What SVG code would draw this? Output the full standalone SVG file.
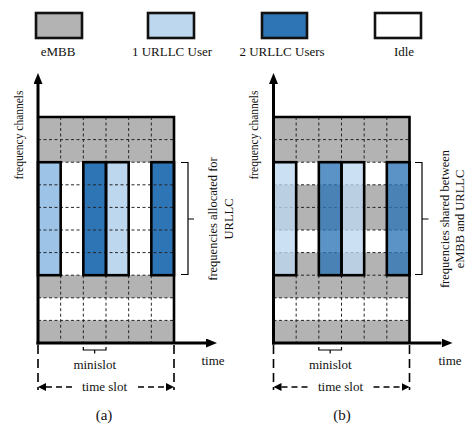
<svg xmlns="http://www.w3.org/2000/svg" width="474" height="428" viewBox="0 0 474 428" font-family="'Liberation Serif', 'Times New Roman', serif">
<defs>
<style>
text{font-family:'Liberation Serif','Times New Roman',serif;fill:#111;}
.lbl{font-size:13px;text-anchor:middle;}
.ax{font-size:11.5px;text-anchor:middle;}
.cap{font-size:15px;text-anchor:middle;}
.gray{fill:#b3b3b3;}
.lb{fill:#bdd7ee;}
.lb2{fill:#9dc3e6;}
.db{fill:#2e75b6;}
.dash{stroke:#262626;stroke-width:1;stroke-dasharray:3 2.5;fill:none;}
.box{fill:none;stroke:#000;stroke-width:2.6;}
.leg{stroke:#111;stroke-width:2.6;}
.axis{stroke:#000;stroke-width:3;fill:none;}
.thin{stroke:#000;stroke-width:1.2;fill:none;}
.ldash{stroke:#000;stroke-width:1.6;stroke-dasharray:9 5;fill:none;}
.adash{stroke:#000;stroke-width:1.6;stroke-dasharray:6 4;fill:none;}
</style>
<marker id="ah" markerUnits="userSpaceOnUse" markerWidth="11" markerHeight="9" refX="0" refY="4.5" orient="auto"><path d="M0,0 L11,4.5 L0,9 z" fill="#000"/></marker>
<marker id="sh" markerUnits="userSpaceOnUse" markerWidth="8" markerHeight="8" refX="0" refY="4" orient="auto"><path d="M0,0 L8,4 L0,8 z" fill="#000"/></marker>
</defs>
<rect width="474" height="428" fill="#fff"/>

<g id="legend">
<rect class="gray leg" x="36" y="13" width="46" height="25"/>
<rect class="lb leg" x="148" y="13" width="46" height="25"/>
<rect class="db leg" x="262" y="13" width="45" height="25"/>
<rect x="375" y="13" width="46" height="25" fill="#fff" class="leg"/>
<text class="lbl" x="58" y="56">eMBB</text>
<text class="lbl" x="172" y="56">1 URLLC User</text>
<text class="lbl" x="282" y="56">2 URLLC Users</text>
<text class="lbl" x="404" y="56">Idle</text>
</g>

<g id="panel-a">
<g id="grid-a">
<rect class="gray" x="38" y="117" width="136" height="45.2"/>
<rect class="gray" x="38" y="275.2" width="136" height="22.6"/>
<rect class="gray" x="38" y="320.4" width="136" height="22.6"/>
<rect class="lb2" x="38" y="162.2" width="22.67" height="113"/>
<rect class="db" x="83.33" y="162.2" width="22.67" height="113"/>
<rect class="lb" x="106" y="162.2" width="22.67" height="113"/>
<rect class="db" x="151.33" y="162.2" width="22.67" height="113"/>
<path class="dash" d="M38,139.6H174M38,162.2H174M38,184.8H174M38,207.4H174M38,230H174M38,252.6H174M38,275.2H174M38,297.8H174M38,320.4H174"/>
<path class="dash" d="M60.67,117V162.2M83.33,117V162.2M106,117V162.2M128.67,117V162.2M151.33,117V162.2M60.67,275.2V343M83.33,275.2V343M106,275.2V343M128.67,275.2V343M151.33,275.2V343"/>
<rect class="box" x="38" y="162.2" width="22.67" height="113"/>
<rect class="box" x="83.33" y="162.2" width="22.67" height="113"/>
<rect class="box" x="106" y="162.2" width="22.67" height="113"/>
<rect class="box" x="151.33" y="162.2" width="22.67" height="113"/>
<path class="box" d="M38,117H174V343"/>
</g>
<g id="connectors-a">
<line class="axis" x1="38" y1="344.5" x2="38" y2="84" marker-end="url(#ah)"/>
<line class="axis" x1="36.5" y1="343" x2="206" y2="343" marker-end="url(#ah)"/>
<path class="thin" d="M181,162.5H188V274.5H181M188,219H194"/>
<path class="thin" d="M83.33,347V350H106V347M94.67,350V353.5"/>
<path class="ldash" d="M38,345V390M174,345V390"/>
<line class="adash" x1="72" y1="387" x2="46" y2="387" marker-end="url(#sh)"/>
<line class="adash" x1="138" y1="387" x2="166" y2="387" marker-end="url(#sh)"/>
</g>
<g id="labels-a">
<text class="ax" transform="translate(23,135) rotate(-90)">frequency channels</text>
<text class="lbl" style="font-size:12.5px" transform="translate(216.5,219) rotate(-90)">frequencies allocated for</text>
<text class="lbl" style="font-size:12.5px" transform="translate(232.5,219) rotate(-90)">URLLC</text>
<text class="lbl" x="94.7" y="369">minislot</text>
<text class="lbl" x="104.5" y="391">time slot</text>
<text class="lbl" x="213" y="365">time</text>
<text class="cap" x="104" y="420">(a)</text>
</g>
</g>

<g id="panel-b">
<g id="grid-b" transform="translate(235.5,0)">
<rect class="gray" x="38" y="117" width="136" height="45.2"/>
<rect class="gray" x="38" y="184.8" width="136" height="45.2"/>
<rect class="gray" x="38" y="252.6" width="136" height="45.2"/>
<rect class="gray" x="38" y="320.4" width="136" height="22.6"/>
<path class="dash" d="M38,139.6H174M38,162.2H174M38,184.8H174M38,207.4H174M38,230H174M38,252.6H174M38,275.2H174M38,297.8H174M38,320.4H174"/>
<path class="dash" d="M60.67,117V162.2M83.33,117V162.2M106,117V162.2M128.67,117V162.2M151.33,117V162.2M60.67,275.2V343M83.33,275.2V343M106,275.2V343M128.67,275.2V343M151.33,275.2V343"/>
<g fill-opacity="0.78">
<rect class="lb" x="38" y="162.2" width="22.67" height="113"/>
<rect class="db" x="83.33" y="162.2" width="22.67" height="113"/>
<rect class="lb" x="106" y="162.2" width="22.67" height="113"/>
<rect class="db" x="151.33" y="162.2" width="22.67" height="113"/>
</g>
<rect class="box" x="38" y="162.2" width="22.67" height="113"/>
<rect class="box" x="83.33" y="162.2" width="22.67" height="113"/>
<rect class="box" x="106" y="162.2" width="22.67" height="113"/>
<rect class="box" x="151.33" y="162.2" width="22.67" height="113"/>
<path class="box" d="M38,117H174V343"/>
</g>
<g id="connectors-b" transform="translate(235.5,0)">
<line class="axis" x1="38" y1="344.5" x2="38" y2="84" marker-end="url(#ah)"/>
<line class="axis" x1="36.5" y1="343" x2="206" y2="343" marker-end="url(#ah)"/>
<path class="thin" d="M179.5,162.5H186.5V274.5H179.5M186.5,219H193"/>
<path class="thin" d="M83.33,347V350H106V347M94.67,350V353.5"/>
<path class="ldash" d="M38,345V390M174,345V390"/>
<line class="adash" x1="72" y1="387" x2="46" y2="387" marker-end="url(#sh)"/>
<line class="adash" x1="138" y1="387" x2="166" y2="387" marker-end="url(#sh)"/>
</g>
<g id="labels-b">
<text class="ax" transform="translate(258,135) rotate(-90)">frequency channels</text>
<text class="lbl" style="font-size:12.5px" transform="translate(448.5,219) rotate(-90)">frequencies shared between</text>
<text class="lbl" style="font-size:12.5px" transform="translate(463.5,219) rotate(-90)">eMBB and URLLC</text>
<text class="lbl" x="330.2" y="369">minislot</text>
<text class="lbl" x="340.5" y="391">time slot</text>
<text class="lbl" x="450" y="365">time</text>
<text class="cap" x="342" y="420">(b)</text>
</g>
</g>
</svg>
